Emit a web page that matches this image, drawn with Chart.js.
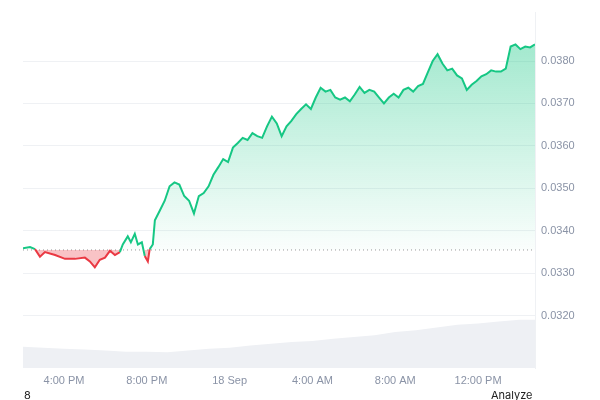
<!DOCTYPE html>
<html><head><meta charset="utf-8">
<script src="https://cdn.jsdelivr.net/npm/chart.js@4"></script>
<style>body{margin:0;width:600px;height:400px;overflow:hidden;font-family:Inter,"Noto Sans",sans-serif;position:relative;background:#fff}
#w{position:absolute;left:0;top:0;width:600px;height:400px}
.t{position:absolute;font-size:11px;color:#222}</style></head>
<body><div id="w"><canvas id="c"></canvas></div>
<div class="t" style="left:24px;top:388px">8</div>
<div class="t" style="left:491px;top:388px">Analyze</div>
<script>
const startHour = 14.02, endHour = 38.75;
const earlyHours = [14.02,14.36,14.60,14.84,15.08,15.57,16.05,16.53,17.01,17.25,17.49,17.73,17.98,18.22,18.46,18.70,18.84,19.08,19.23,19.42,19.57,19.76,19.90,20.05,20.14,20.29,20.39];
const prices = [0.03359,0.03362,0.03357,0.03339,0.03350,0.03343,0.03334,0.03334,0.03337,0.03328,0.03314,0.03332,0.03337,0.03353,0.03343,0.03350,0.03368,0.03387,0.03373,0.03393,0.03368,0.03373,0.03341,0.03328,0.03357,0.03368,0.03425,0.03448,0.03471,0.03505,0.03514,0.03509,0.03482,0.03471,0.03441,0.03482,0.03489,0.03505,0.03532,0.03550,0.03569,0.03562,0.03596,0.03607,0.03619,0.03614,0.03630,0.03623,0.03619,0.03646,0.03669,0.03653,0.03623,0.03646,0.03659,0.03675,0.03687,0.03698,0.03687,0.03714,0.03737,0.03728,0.03732,0.03714,0.03709,0.03714,0.03705,0.03721,0.03739,0.03725,0.03732,0.03728,0.03714,0.03700,0.03714,0.03723,0.03714,0.03732,0.03737,0.03728,0.03741,0.03746,0.03773,0.03800,0.03816,0.03794,0.03778,0.03782,0.03766,0.03759,0.03732,0.03744,0.03753,0.03764,0.03769,0.03778,0.03775,0.03775,0.03782,0.03834,0.03839,0.03828,0.03834,0.03832,0.03839];
const baseline = 0.03355;
const volumeHours = [14,15,16,17,18,19,20,21,22,23,24,25,26,27,28,29,30,31,32,33,34,35,36,37,38,38.75];
const volumes = [6.0,5.7,5.4,5.2,4.9,4.6,4.6,4.4,4.9,5.4,5.7,6.3,6.8,7.3,7.6,8.2,8.7,9.2,10.1,10.6,11.4,12.2,12.5,13.1,13.6,13.6];
const yTicks = [0.032,0.033,0.034,0.035,0.036,0.037,0.038];
const xTicks = [16,20,24,28,32,36];
const xLabels = {16:'4:00 PM',20:'8:00 PM',24:'18 Sep',28:'4:00 AM',32:'8:00 AM',36:'12:00 PM'};

const nLate = prices.length-earlyHours.length;
const lateStart = 20.63, lateStep = (endHour-lateStart)/(nLate-1);
const hours = earlyHours.concat(Array.from({length:nLate},(_,i)=>lateStart+i*lateStep));
const priceData = prices.map((v,i)=>({x:hours[i],y:v}));
const volData = volumeHours.map((h,i)=>({x:h,y:volumes[i]}));
const GREEN='#16c784', RED='#ea3943';
function fillGrad(ctx){
  const a=ctx.chart.chartArea; if(!a) return 'rgba(22,199,132,0.2)';
  const s=ctx.chart.scales.y, yb=s.getPixelForValue(baseline);
  const g=ctx.chart.ctx.createLinearGradient(0,a.top,0,yb);
  g.addColorStop(0,'rgba(22,199,132,0.45)'); g.addColorStop(1,'rgba(22,199,132,0.02)');
  return g;
}
new Chart(document.getElementById('c'),{
  data:{datasets:[
    {type:'line',data:priceData,yAxisID:'y',borderWidth:2,pointRadius:0,tension:0,
     segment:{borderColor:c=>(c.p0.parsed.y+c.p1.parsed.y)/2>=baseline?GREEN:RED},
     borderColor:GREEN,
     fill:{target:{value:baseline},above:fillGrad,below:'rgba(234,57,67,0.3)'},order:1},
    {type:'line',data:[{x:startHour,y:baseline},{x:endHour,y:baseline}],yAxisID:'y',borderColor:'#999',borderWidth:1,borderDash:[1,3],pointRadius:0,fill:false,order:2},
    {type:'line',data:volData,yAxisID:'y2',borderWidth:0,borderColor:'rgba(0,0,0,0)',backgroundColor:'#eef0f4',fill:'origin',pointRadius:0,order:3}
  ]},
  options:{responsive:true,maintainAspectRatio:false,animation:false,
    layout:{padding:{left:23,top:0,right:0,bottom:0}},
    plugins:{legend:{display:false},tooltip:{enabled:false}},
    scales:{
      x:{type:'linear',min:startHour,max:endHour,
        afterBuildTicks:a=>{a.ticks=xTicks.map(v=>({value:v}))},
        afterFit:a=>{a.height=32},
        ticks:{callback:v=>xLabels[v]||'',color:'#8a93a6',font:{size:11},maxRotation:0,padding:6},
        grid:{display:false,drawTicks:false},border:{display:false}},
      y:{position:'right',min:0.03077,max:0.03914,
        afterBuildTicks:a=>{a.ticks=yTicks.map(v=>({value:v}))},
        afterFit:a=>{a.width=65},
        ticks:{callback:v=>v.toFixed(4),color:'#8a93a6',font:{size:11},padding:6},
        grid:{color:'#eff1f4',drawTicks:false},border:{display:true,color:'#eff1f4'}},
      y2:{display:false,min:0,max:100}
    }}
});
</script></body></html>
